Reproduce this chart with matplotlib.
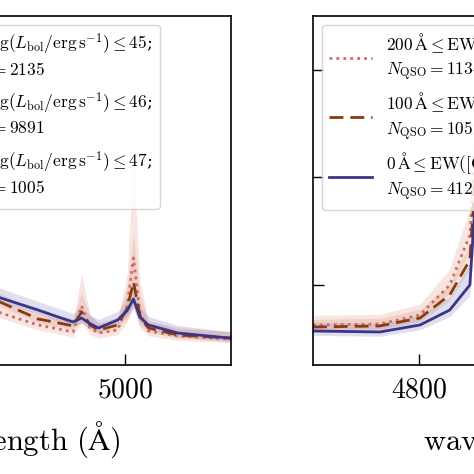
import numpy as np
import matplotlib
matplotlib.use("Agg")
import matplotlib.pyplot as plt
from matplotlib.ticker import MultipleLocator

plt.rcParams['mathtext.fontset'] = 'cm'
plt.rcParams['font.family'] = 'DejaVu Serif'

# ---- left panel data (luminosity bins) ----
wl_L = [4700, 4800, 4840, 4861, 4870, 4880, 4918, 4937, 4951, 4959, 4967, 4975, 4993, 5002, 5008, 5014, 5022, 5050, 5098, 5100]
L45 = [0.60, 0.75, 1.40, 2.60, 1.30, 0.749, 0.628, 0.591, 0.563, 0.805, 0.60, 0.553, 0.581, 0.80, 1.251, 0.75, 0.572, 0.526, 0.498, 0.498]
L46 = [0.60, 0.78, 1.45, 2.50, 1.35, 0.851, 0.684, 0.647, 0.619, 0.749, 0.63, 0.581, 0.628, 0.78, 1.028, 0.72, 0.600, 0.535, 0.507, 0.507]
L47 = [0.62, 0.80, 1.50, 2.40, 1.40, 0.888, 0.767, 0.702, 0.656, 0.693, 0.64, 0.600, 0.674, 0.76, 0.870, 0.70, 0.628, 0.553, 0.507, 0.507]
errL45 = [0.08, 0.08, 0.2, 0.5, 0.2, 0.10, 0.09, 0.09, 0.09, 0.30, 0.12, 0.09, 0.09, 0.3, 0.9, 0.3, 0.09, 0.08, 0.07, 0.07]
errL46 = [0.07, 0.07, 0.15, 0.4, 0.15, 0.08, 0.07, 0.07, 0.07, 0.18, 0.09, 0.07, 0.07, 0.2, 0.45, 0.2, 0.07, 0.06, 0.06, 0.06]
errL47 = [0.07, 0.07, 0.15, 0.4, 0.15, 0.09, 0.08, 0.08, 0.08, 0.10, 0.08, 0.08, 0.08, 0.1, 0.18, 0.1, 0.08, 0.07, 0.06, 0.06]
labL = [r"$44 < \log(L_{\rm bol}/{\rm erg\,s^{-1}}) \leq 45$;" "\n" r"$N_{\rm QSO} = 2135$",
        r"$45 < \log(L_{\rm bol}/{\rm erg\,s^{-1}}) \leq 46$;" "\n" r"$N_{\rm QSO} = 9891$",
        r"$46 < \log(L_{\rm bol}/{\rm erg\,s^{-1}}) \leq 47$;" "\n" r"$N_{\rm QSO} = 1005$"]

# ---- right panel data (EW bins) ----
wl_R = [4700, 4763, 4801, 4829, 4848, 4861, 4880, 4959, 5007, 5100]
E200 = [0.628, 0.637, 0.721, 1.000, 1.465, 3.40, 0.90, 0.90, 1.40, 0.50]
E100 = [0.609, 0.619, 0.693, 0.907, 1.233, 3.20, 0.85, 0.85, 1.20, 0.50]
E0 = [0.572, 0.563, 0.628, 0.767, 1.000, 3.00, 0.80, 0.80, 1.10, 0.50]
errE200 = [0.09, 0.09, 0.1, 0.15, 0.25, 0.5, 0.15, 0.15, 0.3, 0.08]
errE100 = [0.07, 0.07, 0.08, 0.1, 0.15, 0.4, 0.1, 0.1, 0.2, 0.07]
errE0 = [0.08, 0.08, 0.09, 0.12, 0.2, 0.5, 0.12, 0.12, 0.2, 0.07]
labR = [r"$200\,{\rm \AA} \leq {\rm EW([O\,III])}$;" "\n" r"$N_{\rm QSO} = 1134$",
        r"$100\,{\rm \AA} \leq {\rm EW([O\,III])} < 200\,{\rm \AA}$;" "\n" r"$N_{\rm QSO} = 1052$",
        r"$0\,{\rm \AA} \leq {\rm EW([O\,III])} < 100\,{\rm \AA}$;" "\n" r"$N_{\rm QSO} = 4127$"]

colors = ["#d06a6a", "#8b3a0f", "#3b3587"]
bands = ["#e8a89a", "#d9a58a", "#9a95cc"]
styles = [(0, (1, 1.5)), (0, (5, 2.5)), "-"]

W, H = 474, 474
fig = plt.figure(figsize=(W / 100, H / 100), dpi=100)
axL = fig.add_axes([-193 / W, (474 - 365) / H, 424 / W, 349 / H])
axR = fig.add_axes([313 / W, (474 - 365) / H, 424 / W, 349 / H])

for ax, wl, ys, errs, labs in [
        (axL, wl_L, [L45, L46, L47], [errL45, errL46, errL47], labL),
        (axR, wl_R, [E200, E100, E0], [errE200, errE100, errE0], labR)]:
    for y, e, c, b, ls, lab in zip(ys, errs, colors, bands, styles, labs):
        y = np.array(y); e = np.array(e)
        ax.fill_between(wl, y - 0.5 * e, y + e, color=b, alpha=0.3, lw=0)
        ax.plot(wl, y, color=c, ls=ls, lw=2, label=lab)
    ax.set_xlim(4700, 5100)
    ax.set_ylim(0.256, 3.5)
    ax.xaxis.set_major_locator(MultipleLocator(200))
    ax.set_yticks([1, 2, 3])
    ax.set_yticklabels([])
    ax.tick_params(direction='in', length=8, width=1, labelsize=20, pad=8)
    ax.set_xlabel(r"$\mathrm{wavelength\ (\AA)}$", fontsize=22, labelpad=12)
    for s in ax.spines.values():
        s.set_linewidth(1.2)
    ax.set_xticklabels([r"$%d$" % t for t in ax.get_xticks()])

axL.legend(loc='upper right', bbox_to_anchor=(0.832, 0.975), fontsize=12.5,
           labelspacing=0.4, handlelength=2.5, borderaxespad=0)
axR.legend(loc='upper left', bbox_to_anchor=(0.021, 0.975), fontsize=12.5,
           labelspacing=0.4, handlelength=2.5, borderaxespad=0)

fig.savefig("out.png", dpi=100)
